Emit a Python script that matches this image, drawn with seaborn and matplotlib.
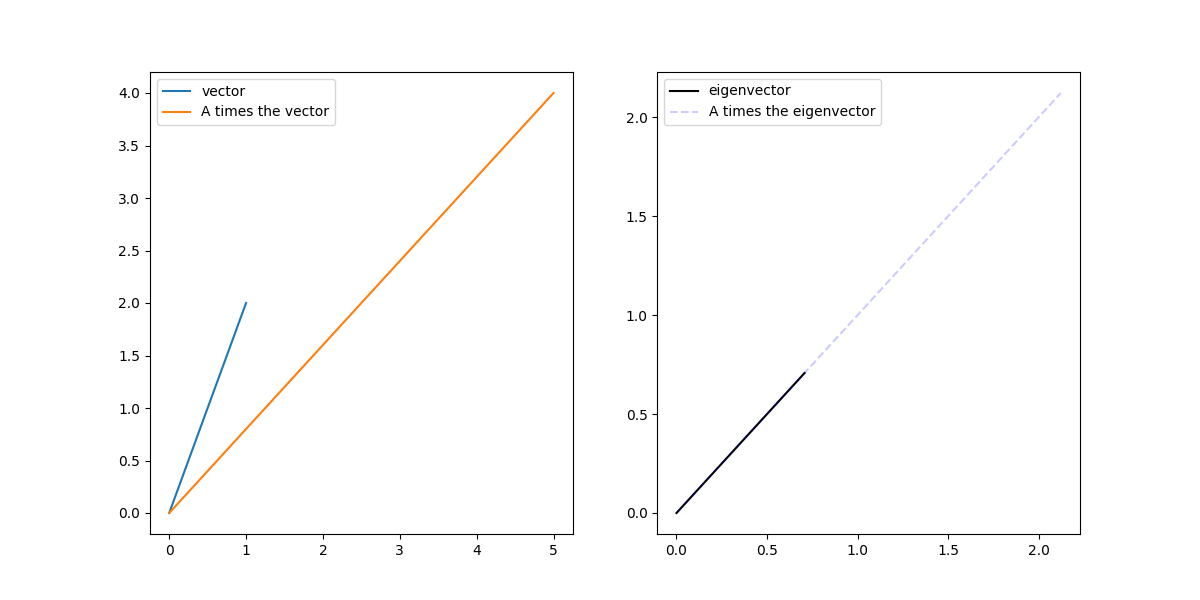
import matplotlib
matplotlib.use("Agg")
import matplotlib.pyplot as plt
import seaborn as sns
import numpy as np

sns.set_style("ticks")
plt.rcParams['font.family'] = ['DejaVu Sans']
sns.reset_orig()
plt.rcParams['font.family'] = ['DejaVu Sans']

vec_x = [0, 1]
vec_y = [0, 2]
avec_x = [0, 5]
avec_y = [0, 4]
eig_x = [0, 0.7071]
eig_y = [0, 0.7071]
aeig_x = [0, 2.1213]
aeig_y = [0, 2.1213]

fig, (ax1, ax2) = plt.subplots(1, 2, figsize=(12, 6), dpi=100)
sns.lineplot(x=vec_x, y=vec_y, ax=ax1, label="vector", color="#1f77b4", sort=False)
sns.lineplot(x=avec_x, y=avec_y, ax=ax1, label="A times the vector", color="#ff7f0e", sort=False)
ax1.legend(loc="upper left")

sns.lineplot(x=eig_x, y=eig_y, ax=ax2, label="eigenvector", color="black", sort=False)
sns.lineplot(x=aeig_x, y=aeig_y, ax=ax2, label="A times the eigenvector", color="blue", alpha=0.2, linestyle="--", sort=False)
ax2.legend(loc="upper left")

fig.savefig("out.png", dpi=100)
